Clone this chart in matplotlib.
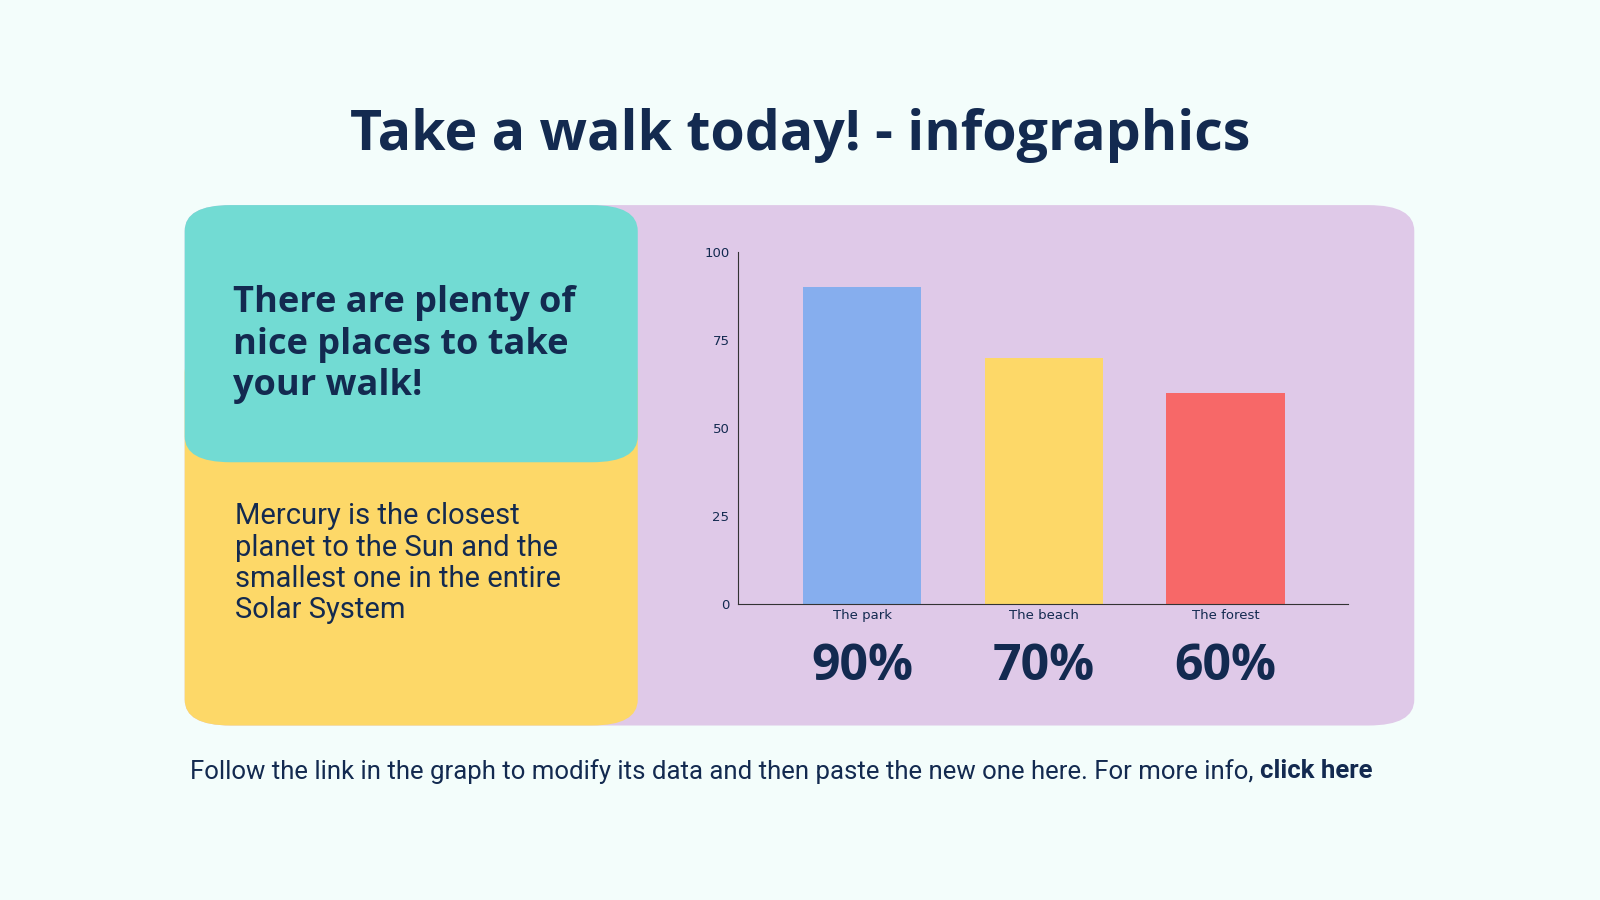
import matplotlib
matplotlib.use("Agg")
import matplotlib.pyplot as plt
from matplotlib.patches import FancyBboxPatch

categories = ["The park", "The beach", "The forest"]
values = [90, 70, 60]
labels = ["90%", "70%", "60%"]
colors = ["#86aeee", "#fdd868", "#f76868"]
yticks = [0, 25, 50, 75, 100]

W, H = 1568, 882
NAVY = "#132a50"
fig = plt.figure(figsize=(16, 9), dpi=100)
fig.patch.set_facecolor("#f3fdfb")

def fx(x): return x / W
def fy(y): return 1 - y / H

def rbox(x0, y0, x1, y1, color, r=45):
    p = FancyBboxPatch((fx(x0), fy(y1)), fx(x1 - x0), (y1 - y0) / H,
                       boxstyle=f"round,pad=0,rounding_size={r/W}",
                       transform=fig.transFigure, facecolor=color, edgecolor="none",
                       mutation_aspect=W / H * 9 / 16, zorder=0)
    fig.patches.append(p)

rbox(181, 201, 1386, 711, "#dfc9e8")
rbox(181, 340, 625, 711, "#fdd868")
rbox(181, 201, 625, 453, "#72dbd3")

fig.text(0.5, fy(133), "Take a walk today! - infographics", ha="center", va="center",
         fontsize=40, fontweight="bold", color=NAVY, family="Open Sans")
fig.text(fx(228), fy(338), "There are plenty of\nnice places to take\nyour walk!", ha="left",
         va="center", fontsize=26, fontweight="bold", color=NAVY, family="Open Sans",
         linespacing=1.2)
fig.text(fx(230), fy(552), "Mercury is the closest\nplanet to the Sun and the\nsmallest one in the entire\nSolar System",
         ha="left", va="center", fontsize=21, color=NAVY, family="Roboto", linespacing=1.15)

t1 = fig.text(fx(186), fy(756), "Follow the link in the graph to modify its data and then paste the new one here. For more info, ",
              ha="left", va="center", fontsize=18.5, color=NAVY, family="Roboto")
fig.canvas.draw()
bb = t1.get_window_extent().transformed(fig.transFigure.inverted())
fig.text(bb.x1, fy(756), "click here", ha="left", va="center", fontsize=18.5,
         fontweight="bold", color=NAVY, family="Roboto")

ax = fig.add_axes([fx(723), fy(592), fx(1321 - 723), (592 - 247) / H])
ax.set_zorder(5)
ax.set_facecolor("none")
x = range(len(categories))
ax.bar(x, values, width=0.65, color=colors)
ax.set_xlim(-0.685, 2.674)
ax.set_ylim(0, 100)
ax.set_yticks(yticks)
ax.set_xticks(list(x), categories)
ax.tick_params(labelsize=9.5, colors=NAVY, length=0)
ax.tick_params(axis="y", pad=6)
for s in ["top", "right"]:
    ax.spines[s].set_visible(False)
for s in ["left", "bottom"]:
    ax.spines[s].set_color("#333333")
for i, l in enumerate(labels):
    ax.annotate(l, (i, 0), xytext=(0, -45), textcoords="offset points", ha="center",
                va="center", fontsize=36, fontweight="bold", color=NAVY, family="Open Sans",
                annotation_clip=False)

fig.savefig("out.png", dpi=100, facecolor=fig.get_facecolor())
